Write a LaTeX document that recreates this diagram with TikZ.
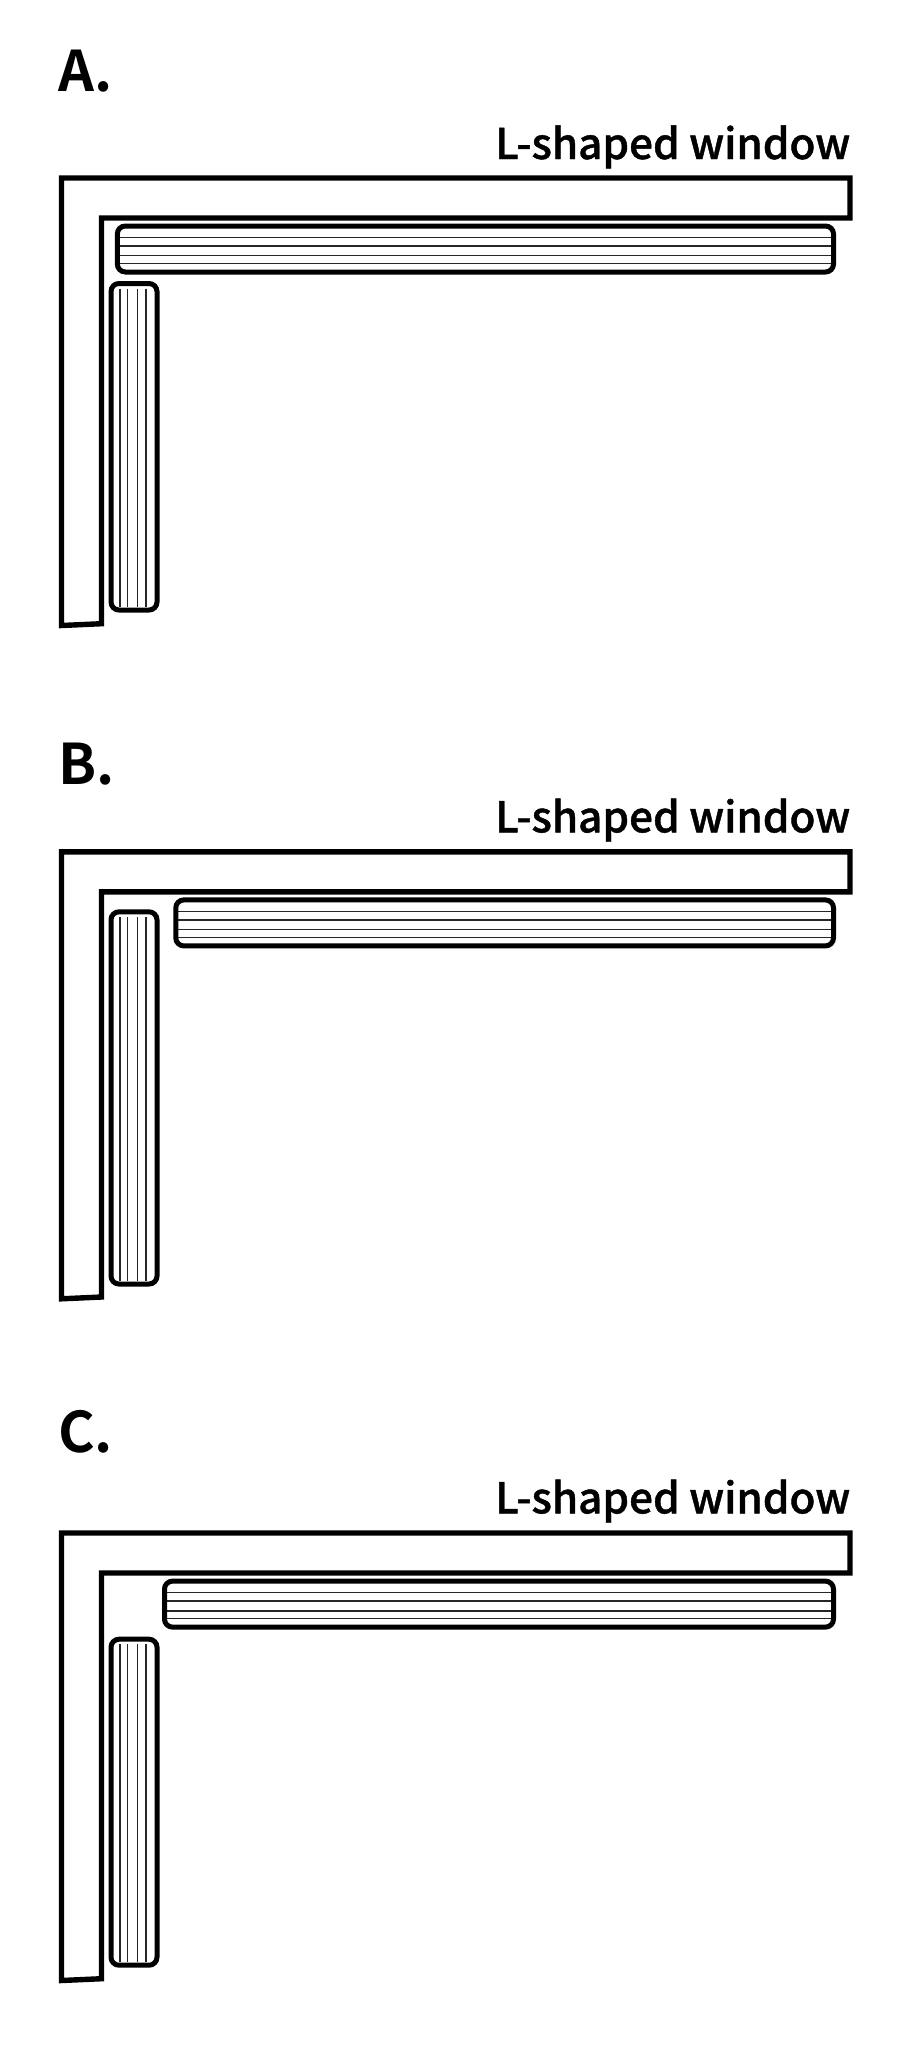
\documentclass[tikz,border=0pt]{standalone}
\usepackage{fontspec}
\setmainfont{Noto Sans CJK KR}[BoldFont={Noto Sans CJK KR Bold}]
\newfontfamily\capfont[FakeBold=1]{Noto Sans CJK KR Medium}
\newcommand{\wpanel}[7]{%
  % #1 L offset, #2 bar left, #3 bar offset, #4 post top, #5 post bottom, #6 L bottom left, #7 L bottom right
  \draw[frame] (61.5,#6) -- (61.5,{#1+178}) -- (850,{#1+178}) -- (850,{#1+218}) -- (101.5,{#1+218}) -- (101.5,#7) -- cycle;
  \foreach \ly in {237.5,246,255.7,263.5} \draw[rule] (#2,{#3+\ly}) -- (833.5,{#3+\ly});
  \draw[rule] (120,{#4+5}) -- (120,{#5-3});
  \draw[rule] (127.3,{#4+5}) -- (127.3,{#5-3});
  \draw[rule] (137.3,{#4+5}) -- (137.3,{#5-3});
  \draw[rule] (146,{#4+5}) -- (146,{#5-3});
  \draw[pane] (#2,{#3+226}) rectangle (833.5,{#3+272});
  \draw[pane] (111,#4) rectangle (157,#5);
}
\tikzset{
  frame/.style={draw=black,line width=5.4pt,miter limit=10,line join=miter},
  pane/.style={draw=black,line width=5pt,rounded corners=8pt},
  rule/.style={draw=black!85,line width=1.4pt},
  letter/.style={inner sep=0pt,anchor=base west,font=\fontsize{56}{56}\selectfont\bfseries},
  caption/.style={inner sep=0pt,anchor=base east,font=\fontsize{42.3}{42.3}\capfont},
}
\begin{document}
\begin{tikzpicture}[x=1pt,y=-1pt]
  \useasboundingbox (0,0) rectangle (916,2048);
  \fill[white] (0,0) rectangle (916,2048);
  \node[letter] (la) at (58,91) {A.};
  \node[letter] (lb) at (58,784.3) {B.};
  \node[letter] (lc) at (58,1452.7) {C.};
  \node[caption] (ca) at (850.5,159) {L-shaped window};
  \node[caption] (cb) at (850.5,832.3) {L-shaped window};
  \node[caption] (cc) at (850.5,1513.3) {L-shaped window};
  \wpanel{0}{117.3}{0}{283.5}{610}{625.5}{623.7}
  \wpanel{673.8}{175.8}{673.9}{911.8}{1284}{1298.8}{1297}
  \wpanel{1355}{164.5}{1355.1}{1639.2}{1965.2}{1980.5}{1978.7}
\end{tikzpicture}
\end{document}
